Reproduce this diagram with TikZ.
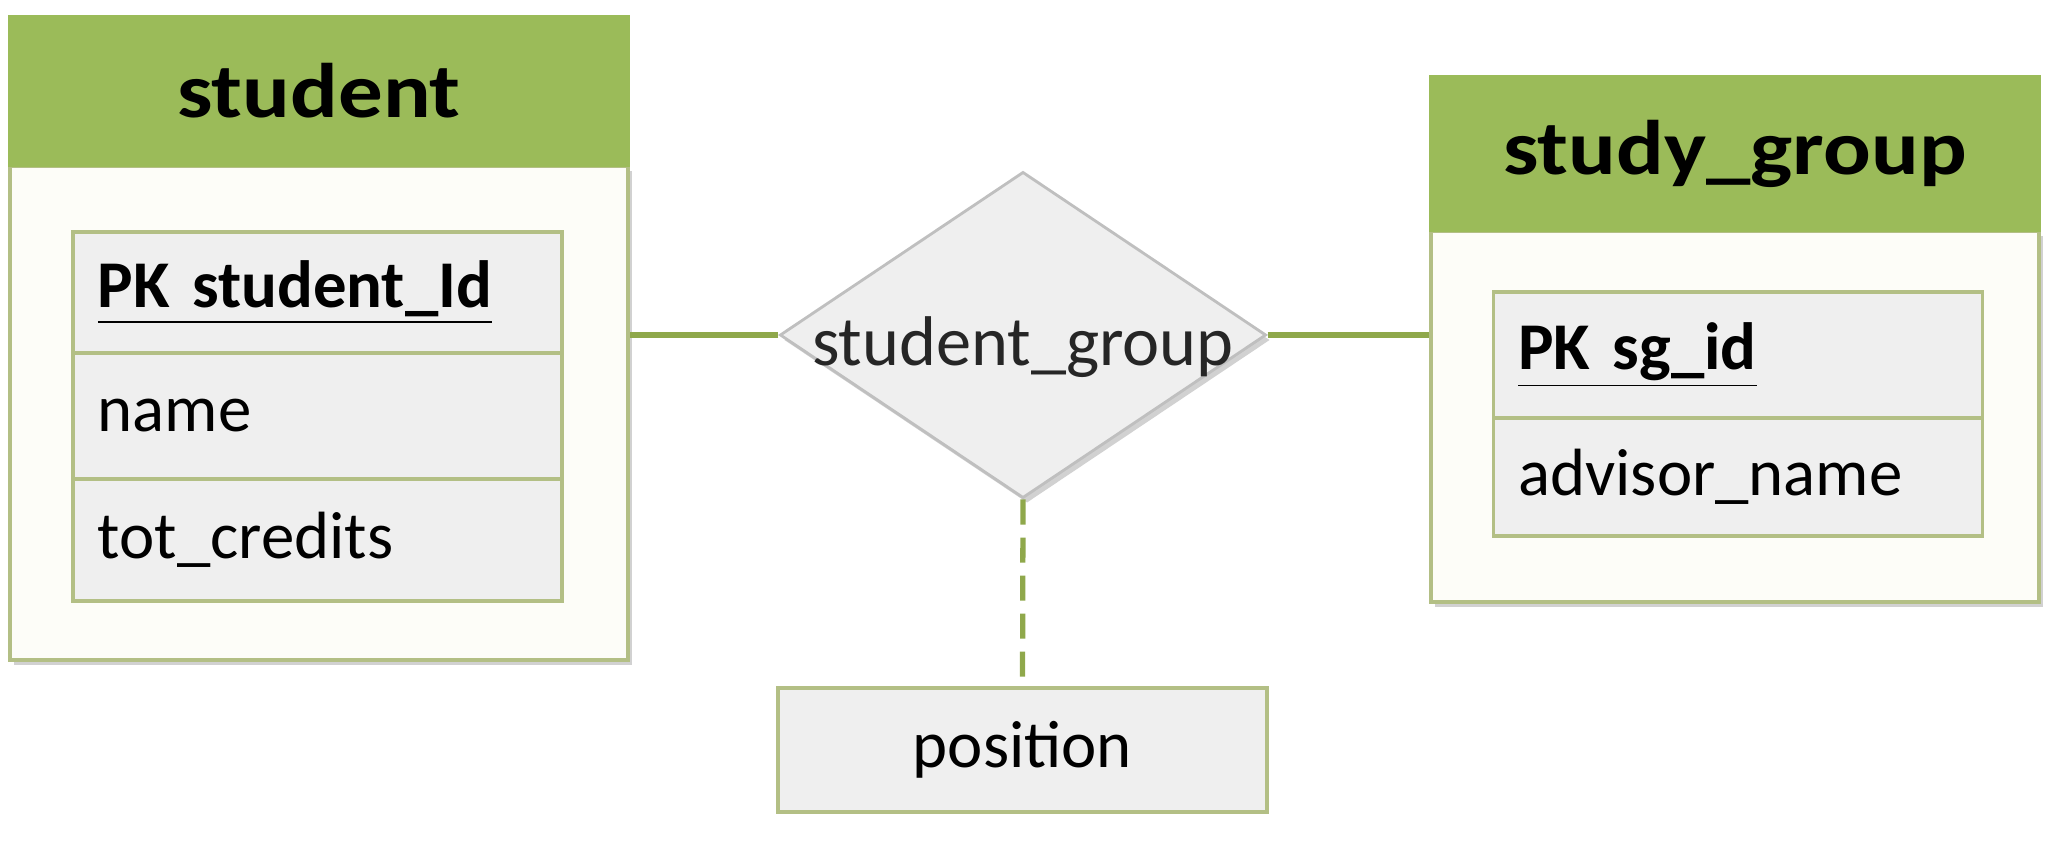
\documentclass[tikz,border=0pt]{standalone}
\usepackage{fontspec}
\setmainfont{Carlito}
\usetikzlibrary{shapes.geometric,shadows}
\definecolor{hdr}{HTML}{9BBB59}
\definecolor{edgec}{HTML}{B3BF85}
\definecolor{conn}{HTML}{8FA84B}
\definecolor{cellc}{HTML}{EFEFEF}
\definecolor{bodyc}{HTML}{FDFDF8}
\begin{document}
\begin{tikzpicture}[x=0.01cm,y=-0.01cm,
  shade/.style={drop shadow={shadow xshift=0.04cm,shadow yshift=-0.05cm,opacity=0.18,fill=black}},
  hdrbox/.style={rectangle,fill=hdr,draw=hdr,line width=0.8pt,inner sep=0pt,font=\fontsize{22}{26}\selectfont\bfseries},
  bodybox/.style={rectangle,fill=bodyc,draw=edgec,line width=1pt,inner sep=0pt,shade},
  cellbox/.style={rectangle,fill=cellc,draw=edgec,line width=1pt,inner xsep=0.25cm,inner ysep=0pt,
    text width=4.39cm,align=left,font=\fontsize{19}{22}\selectfont},
  relbox/.style={diamond,fill=cellc,draw=black!25,line width=0.8pt,inner sep=0pt,shade},
  attrbox/.style={rectangle,fill=cellc,draw=edgec,line width=1pt,inner sep=0pt,font=\fontsize{19}{22}\selectfont},
  conline/.style={draw=conn,line width=1.5pt},
  dashline/.style={draw=conn,line width=1.5pt,dash pattern=on 0.25cm off 0.13cm}
]
\useasboundingbox (0,0) rectangle (2046,865);
% student entity
\node[bodybox,minimum width=6.18cm,minimum height=4.94cm] (sbody) at (319,413) {};
\node[hdrbox,minimum width=6.18cm,minimum height=1.50cm] (shdr) at (319,91) {\scalebox{1.15}[1]{student}};
\node[cellbox,minimum height=1.21cm] (spk) at (317.5,292.5) {\bfseries\underline{PK student\_Id}};
\node[cellbox,minimum height=1.26cm] (sname) at (317.5,416) {name};
\node[cellbox,minimum height=1.22cm] (scred) at (317.5,540) {tot\_credits};
% study_group entity
\node[bodybox,minimum width=6.08cm,minimum height=3.71cm] (gbody) at (1735,416.5) {};
\node[hdrbox,minimum width=6.08cm,minimum height=1.55cm] (ghdr) at (1735,153.5) {\scalebox{1.15}[1]{study\_group}};
\node[cellbox,minimum height=1.26cm] (gpk) at (1738,355) {\bfseries\underline{PK sg\_id}};
\node[cellbox,minimum height=1.18cm] (gadv) at (1738,477) {advisor\_name};
% relationship
\node[relbox,minimum width=4.86cm,minimum height=3.26cm] (rel) at (1023,335) {};
\node[font=\fontsize{20}{24}\selectfont,text=black!85] (reltext) at ([yshift=-0.12cm]rel.center) {student\_group};
% attribute
\node[attrbox,minimum width=4.89cm,minimum height=1.24cm] (pos) at (1022.5,750) {position};
% connectors
\draw[conline] (rel.west) -- (rel.west -| sbody.east);
\draw[conline] (rel.east) -- (rel.east -| gbody.west);
\draw[dashline] (rel.south) -- (pos.north);
\end{tikzpicture}
\end{document}
